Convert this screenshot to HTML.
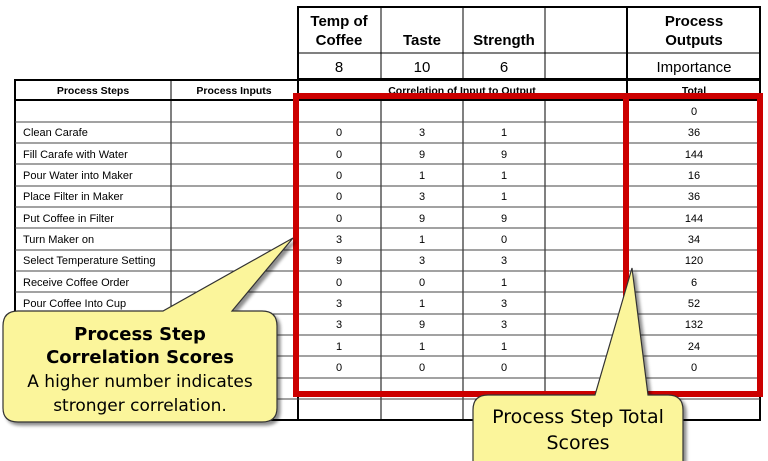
<!DOCTYPE html>
<html><head><meta charset="utf-8"><style>
html,body{margin:0;padding:0;background:#fff;}
svg{display:block;}
</style></head><body>
<svg width="768" height="461" viewBox="0 0 768 461" xmlns="http://www.w3.org/2000/svg" font-family="Liberation Sans, Arial, sans-serif">
<defs>
<filter id="sh" x="-10%" y="-10%" width="130%" height="130%"><feDropShadow dx="3" dy="3" stdDeviation="1.5" flood-color="#000" flood-opacity="0.45"/></filter>
</defs>
<rect width="768" height="461" fill="#fff"/>
<g stroke="#000" fill="none">
<rect x="298" y="7" width="462" height="72" stroke-width="2"/>
<line x1="298" y1="53" x2="760" y2="53" stroke-width="1"/>
<line x1="381" y1="7" x2="381" y2="79" stroke-width="1"/>
<line x1="463" y1="7" x2="463" y2="79" stroke-width="1"/>
<line x1="545" y1="7" x2="545" y2="79" stroke-width="1"/>
<line x1="627" y1="7" x2="627" y2="79" stroke-width="2"/>
<rect x="15" y="80" width="745" height="340" stroke-width="2"/>
<line x1="15" y1="100" x2="760" y2="100" stroke-width="2"/>
<line x1="171" y1="80" x2="171" y2="420" stroke-width="1"/>
<line x1="298" y1="80" x2="298" y2="420" stroke-width="2"/>
<line x1="627" y1="80" x2="627" y2="420" stroke-width="2"/>
<line x1="381" y1="100" x2="381" y2="420" stroke-width="1"/>
<line x1="463" y1="100" x2="463" y2="420" stroke-width="1"/>
<line x1="545" y1="100" x2="545" y2="420" stroke-width="1"/>
</g>
<g stroke="#444" stroke-width="1">
<line x1="15" y1="122" x2="760" y2="122"/>
<line x1="15" y1="143" x2="760" y2="143"/>
<line x1="15" y1="164" x2="760" y2="164"/>
<line x1="15" y1="186" x2="760" y2="186"/>
<line x1="15" y1="207" x2="760" y2="207"/>
<line x1="15" y1="228" x2="760" y2="228"/>
<line x1="15" y1="250" x2="760" y2="250"/>
<line x1="15" y1="271" x2="760" y2="271"/>
<line x1="15" y1="292" x2="760" y2="292"/>
<line x1="15" y1="314" x2="760" y2="314"/>
<line x1="15" y1="335" x2="760" y2="335"/>
<line x1="15" y1="356" x2="760" y2="356"/>
<line x1="15" y1="378" x2="760" y2="378"/>
<line x1="15" y1="399" x2="760" y2="399"/>
</g>
<g font-weight="bold" font-size="15" text-anchor="middle" fill="#000">
<text x="339" y="26">Temp of</text><text x="339" y="45">Coffee</text>
<text x="422" y="45">Taste</text>
<text x="504" y="45">Strength</text>
<text x="694" y="26">Process</text><text x="694" y="45">Outputs</text>
</g>
<g font-size="15" text-anchor="middle" fill="#000">
<text x="339" y="72">8</text><text x="422" y="72">10</text><text x="504" y="72">6</text><text x="694" y="72">Importance</text>
</g>
<g font-weight="bold" font-size="10.5" text-anchor="middle" fill="#000">
<text x="93" y="94">Process Steps</text>
<text x="234" y="94">Process Inputs</text>
<text x="462" y="94">Correlation of Input to Output</text>
<text x="694" y="94">Total</text>
</g>
<g font-size="11" fill="#000">
<text x="23" y="136">Clean Carafe</text>
<text x="23" y="158">Fill Carafe with Water</text>
<text x="23" y="179">Pour Water into Maker</text>
<text x="23" y="200">Place Filter in Maker</text>
<text x="23" y="222">Put Coffee in Filter</text>
<text x="23" y="243">Turn Maker on</text>
<text x="23" y="264">Select Temperature Setting</text>
<text x="23" y="286">Receive Coffee Order</text>
<text x="23" y="307">Pour Coffee Into Cup</text>
</g>
<g font-size="11" text-anchor="middle" fill="#000">
<text x="694" y="115">0</text>
<text x="339" y="136">0</text><text x="422" y="136">3</text><text x="504" y="136">1</text><text x="694" y="136">36</text>
<text x="339" y="158">0</text><text x="422" y="158">9</text><text x="504" y="158">9</text><text x="694" y="158">144</text>
<text x="339" y="179">0</text><text x="422" y="179">1</text><text x="504" y="179">1</text><text x="694" y="179">16</text>
<text x="339" y="200">0</text><text x="422" y="200">3</text><text x="504" y="200">1</text><text x="694" y="200">36</text>
<text x="339" y="222">0</text><text x="422" y="222">9</text><text x="504" y="222">9</text><text x="694" y="222">144</text>
<text x="339" y="243">3</text><text x="422" y="243">1</text><text x="504" y="243">0</text><text x="694" y="243">34</text>
<text x="339" y="264">9</text><text x="422" y="264">3</text><text x="504" y="264">3</text><text x="694" y="264">120</text>
<text x="339" y="286">0</text><text x="422" y="286">0</text><text x="504" y="286">1</text><text x="694" y="286">6</text>
<text x="339" y="307">3</text><text x="422" y="307">1</text><text x="504" y="307">3</text><text x="694" y="307">52</text>
<text x="339" y="328">3</text><text x="422" y="328">9</text><text x="504" y="328">3</text><text x="694" y="328">132</text>
<text x="339" y="350">1</text><text x="422" y="350">1</text><text x="504" y="350">1</text><text x="694" y="350">24</text>
<text x="339" y="371">0</text><text x="422" y="371">0</text><text x="504" y="371">0</text><text x="694" y="371">0</text>
</g>
<g fill="none" stroke="#cc0000" stroke-width="6">
<rect x="296" y="96" width="330" height="298"/>
<rect x="626" y="96" width="134" height="298"/>
</g>
<path d="M18,311 L163,311 L293,238 L232,311 L262,311 Q277,311 277,326 L277,408 Q277,422 262,422 L18,422 Q3,422 3,408 L3,326 Q3,311 18,311 Z" fill="#fbf59b" stroke="#333" stroke-width="1.2" filter="url(#sh)"/>
<g text-anchor="middle" fill="#000" font-family="DejaVu Sans, Verdana, sans-serif">
<text x="140" y="340" font-size="18" font-weight="bold">Process Step</text>
<text x="140" y="363" font-size="18" font-weight="bold">Correlation Scores</text>
<text x="140" y="387" font-size="17">A higher number indicates</text>
<text x="140" y="411" font-size="17">stronger correlation.</text>
</g>
<path d="M488,395 L595,395 L632,268 L648,395 L668,395 Q683,395 683,410 L683,470 L473,470 L473,410 Q473,395 488,395 Z" fill="#fbf59b" stroke="#333" stroke-width="1.2" filter="url(#sh)"/>
<g text-anchor="middle" fill="#000" font-family="DejaVu Sans, Verdana, sans-serif" font-size="19">
<text x="578" y="423">Process Step Total</text>
<text x="578" y="449">Scores</text>
</g>
</svg>
</body></html>
